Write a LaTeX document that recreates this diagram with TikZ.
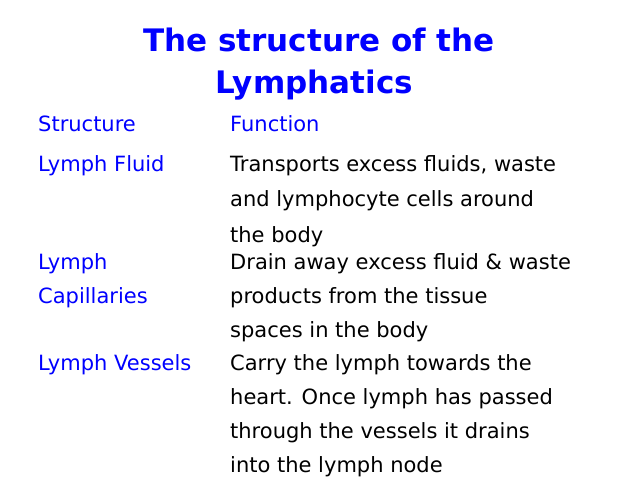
\documentclass[tikz,border=0pt]{standalone}
\usepackage{fontspec}
\setmainfont{DejaVu Sans}
\begin{document}
\begin{tikzpicture}[x=1pt,y=-1pt,
  t/.style={anchor=base west,inner sep=0pt,font=\fontsize{21}{24}\selectfont},
  lab/.style={t,text=blue},
  ttl/.style={anchor=base,inner sep=0pt,text=blue,font=\fontsize{31}{34}\bfseries\selectfont}]
\useasboundingbox (0,0) rectangle (638,478);
\node[ttl] (t1) at (319,52) {The structure of the};
\node[ttl] (t2) at (314,94) {Lymphatics};
\node[lab] (s) at (38,132) {Structure};
\node[lab] (f) at (230,132) {Function};
\node[lab] (l1) at (38,172) {Lymph Fluid};
\node[t] (a1) at (230,172) {Transports excess fluids, waste};
\node[t] (a2) at (230,207) {and lymphocyte cells around};
\node[t] (a3) at (230,243) {the body};
\node[lab] (l2) at (38,270) {Lymph};
\node[lab] (l2b) at (38,304) {Capillaries};
\node[t] (b1) at (230,270) {Drain away excess fluid \& waste};
\node[t] (b2) at (230,304) {products from the tissue};
\node[t] (b3) at (230,338) {spaces in the body};
\node[lab] (l3) at (38,371) {Lymph Vessels};
\node[t] (c1) at (230,371) {Carry the lymph towards the};
\node[t] (c2) at (230,405) {heart. Once lymph has passed};
\node[t] (c3) at (230,439) {through the vessels it drains};
\node[t] (c4) at (230,473) {into the lymph node};
\end{tikzpicture}
\end{document}
